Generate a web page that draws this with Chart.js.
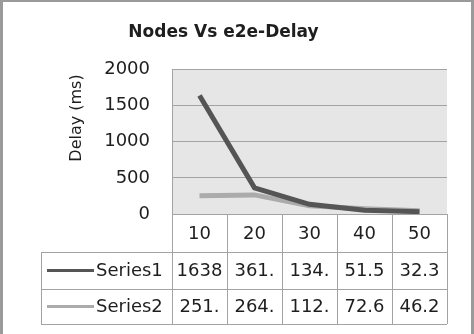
<!DOCTYPE html>
<html>
<head>
<meta charset="utf-8">
<script src="https://cdn.jsdelivr.net/npm/chart.js@4/dist/chart.umd.min.js"></script>
<style>
  html, body { margin: 0; padding: 0; background: #fff; }
  canvas { display: block; }
</style>
</head>
<body>
<canvas id="chart" width="474" height="334" style="width:474px;height:334px"></canvas>
<script>
// chart data
const categories = ['10', '20', '30', '40', '50'];
const series1 = [1638, 361.2, 134.3, 51.5, 32.3];
const series2 = [251.4, 264.3, 112.6, 72.6, 46.2];
const seriesNames = ['Series1', 'Series2'];
const seriesColors = ['#555555', '#ababab'];
const yTicks = [0, 500, 1000, 1500, 2000];

const FONT = '"DejaVu Sans", sans-serif';
const GRID = '#a3a3a3';
const TEXT = '#1e1e1e';

// cell text like the spreadsheet: cut to 4 characters
const cellText = v => String(v).slice(0, 4);

const frame = {
  id: 'frame',
  beforeDraw(chart) {
    const { ctx, width, height, chartArea: a } = chart;
    ctx.save();
    ctx.fillStyle = '#fff';
    ctx.fillRect(0, 0, width, height);
    ctx.fillStyle = '#e6e6e6';
    ctx.fillRect(a.left, a.top, a.right - a.left, a.bottom - a.top);
    ctx.restore();
  },
  afterDraw(chart) {
    const { ctx, width, height } = chart;
    ctx.save();
    ctx.fillStyle = '#9a9a9a';
    ctx.fillRect(0, 0, width, 2);
    ctx.fillRect(0, 0, 3, height);
    ctx.fillRect(width - 3, 0, 3, height);
    // axis title, placed a bit above the axis middle as in the original
    ctx.translate(77, 118);
    ctx.rotate(-Math.PI / 2);
    ctx.fillStyle = TEXT;
    ctx.font = '16px ' + FONT;
    ctx.textAlign = 'center';
    ctx.textBaseline = 'middle';
    ctx.fillText('Delay (ms)', 0, 0);
    ctx.restore();
  }
};

// data table under the plot, columns follow the x scale
const dataTable = {
  id: 'dataTable',
  afterDraw(chart) {
    const { ctx, chartArea: a } = chart;
    const x = chart.scales.x;
    const step = (a.right - a.left) / categories.length;
    const rows = [a.bottom, a.bottom + 38, a.bottom + 75, a.bottom + 110];
    const labelLeft = 41;
    ctx.save();
    ctx.strokeStyle = GRID;
    ctx.lineWidth = 1;
    ctx.beginPath();
    ctx.moveTo(a.left, rows[0] + 0.5); ctx.lineTo(a.right, rows[0] + 0.5);
    for (let r = 1; r < rows.length; r++) {
      ctx.moveTo(labelLeft, rows[r] + 0.5); ctx.lineTo(a.right, rows[r] + 0.5);
    }
    for (let i = 0; i <= categories.length; i++) {
      const px = Math.round(a.left + i * step) + 0.5;
      ctx.moveTo(px, rows[0]); ctx.lineTo(px, rows[3]);
    }
    ctx.moveTo(labelLeft + 0.5, rows[1]); ctx.lineTo(labelLeft + 0.5, rows[3]);
    ctx.stroke();

    ctx.fillStyle = TEXT;
    ctx.font = '18px ' + FONT;
    ctx.textBaseline = 'middle';
    ctx.textAlign = 'center';
    categories.forEach((c, i) => {
      ctx.fillText(c, x.getPixelForValue(i), (rows[0] + rows[1]) / 2 + 1);
    });
    [series1, series2].forEach((vals, r) => {
      const cy = (rows[r + 1] + rows[r + 2]) / 2 + 1;
      ctx.textAlign = 'center';
      vals.forEach((v, i) => ctx.fillText(cellText(v), x.getPixelForValue(i), cy));
      ctx.strokeStyle = seriesColors[r];
      ctx.lineWidth = 3;
      ctx.beginPath();
      ctx.moveTo(47, cy - 1); ctx.lineTo(94, cy - 1);
      ctx.stroke();
      ctx.textAlign = 'left';
      ctx.fillText(seriesNames[r], 96, cy);
    });
    ctx.restore();
  }
};

new Chart(document.getElementById('chart'), {
  type: 'line',
  data: {
    labels: categories,
    datasets: [
      { label: seriesNames[0], data: series1, borderColor: seriesColors[0], borderWidth: 5, pointRadius: 0, tension: 0 },
      { label: seriesNames[1], data: series2, borderColor: seriesColors[1], borderWidth: 5, pointRadius: 0, tension: 0 }
    ]
  },
  options: {
    responsive: false,
    animation: false,
    layout: { padding: { left: 0, right: 27, top: 0, bottom: 0 } },
    plugins: {
      legend: { display: false },
      tooltip: { enabled: false },
      title: {
        display: true,
        text: 'Nodes Vs e2e-Delay',
        color: TEXT,
        font: { family: FONT, size: 17, weight: 'bold' },
        padding: { top: 22, bottom: 27 }
      }
    },
    scales: {
      x: {
        offset: true,
        grid: { display: false },
        border: { display: false },
        ticks: { display: false },
        afterFit: s => { s.height = 120; }
      },
      y: {
        min: 0,
        max: 2000,
        afterBuildTicks: s => { s.ticks = yTicks.map(v => ({ value: v })); },
        ticks: { padding: 22, color: TEXT, font: { family: FONT, size: 18 }, callback: v => String(v) },
        grid: { color: GRID, drawTicks: false },
        border: { color: GRID },
        afterFit: s => { s.width = 172; }
      }
    }
  },
  plugins: [frame, dataTable]
});
</script>
</body>
</html>
